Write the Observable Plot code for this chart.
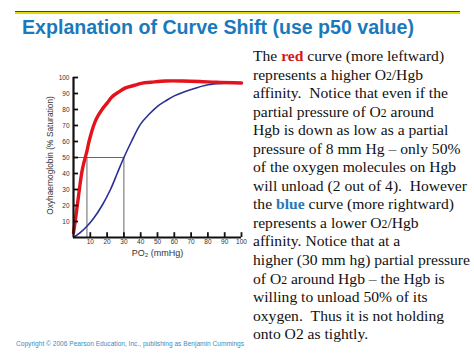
<!DOCTYPE html>
<html>
<head>
<meta charset="utf-8">
<script src="https://cdn.jsdelivr.net/npm/d3@7"></script>
<script src="https://cdn.jsdelivr.net/npm/@observablehq/plot@0.6"></script>
<style>
  html, body { margin: 0; padding: 0; background: #fff; }
  body { width: 474px; height: 355px; position: relative; overflow: hidden; }
  #topline { position: absolute; left: 15px; top: 11px; width: 445px; height: 1px; background: #4a4a20; border-bottom: 2px solid #e2dc00; }
  #title { position: absolute; left: 22px; top: 18.4px; font: bold 19.6px/1 "Liberation Sans", Arial, sans-serif; color: #1a79bc; white-space: nowrap; }
  #chart { position: absolute; left: 0; top: 60px; }
  #para { position: absolute; left: 253px; top: 47px; font: 15.6px/18.55px "Liberation Serif", "Times New Roman", serif; color: #111; white-space: nowrap; }
  #para div { height: 18.55px; }
  #para .r { color: #d01818; font-weight: bold; }
  #para .b { color: #2a78b8; font-weight: bold; }
  #para .s { font-size: 0.75em; line-height: 0; }
  #copy { position: absolute; left: 16px; top: 340.7px; font: 6.6px/1 "Liberation Sans", Arial, sans-serif; color: #3a8cc2; white-space: nowrap; }
</style>
</head>
<body>
<div id="topline"></div>
<div id="title"></div>
<div id="chart"></div>
<div id="para"></div>
<div id="copy"></div>
<script>
// ---- data ----
const titleText = "Explanation of Curve Shift (use p50 value)";
const yLabel = "Oxyhaemoglobin (% Saturation)";
const xLabel = "PO\u2082 (mmHg)";
const copyright = "Copyright \u00a9 2006 Pearson Education, Inc., publishing as Benjamin Cummings";
const xTicks = [10, 20, 30, 40, 50, 60, 70, 80, 90, 100];
const yTicks = [10, 20, 30, 40, 50, 60, 70, 80, 90, 100];

// red (higher affinity, leftward) curve
const redPO2 = [0, 1, 2, 3, 4, 5, 6, 7, 8, 9, 10, 12, 14, 17, 20, 23, 27, 31, 36, 41, 46, 55, 65, 75, 85, 100];
const redSat = [3, 10, 18, 26, 34, 41, 46, 50, 54, 59, 63, 70, 75, 80, 84, 88, 91, 93.5, 95, 96.5, 97, 97.8, 97.8, 97.5, 97, 96.6];
// blue (lower affinity, rightward) curve
const bluePO2 = [0, 4, 8, 12, 17, 22, 26, 30, 34.5, 40, 45, 50, 55, 60, 70, 80, 90, 100];
const blueSat = [0, 3, 7, 12, 20, 30, 40, 50, 60, 71, 77, 82, 85.5, 88.5, 92.5, 95.5, 96.4, 96.6];

// p50 guides
const p50PO2 = [8, 30];
const p50Level = [50];

// text paragraph lines
const paraLines = [
  'The <span class="r">red</span> curve (more leftward)',
  'represents a higher O<span class="s">2</span>/Hgb',
  'affinity.  Notice that even if the',
  'partial pressure of O<span class="s">2</span> around',
  'Hgb is down as low as a partial',
  'pressure of 8 mm Hg \u2013 only 50%',
  'of the oxygen molecules on Hgb',
  'will unload (2 out of 4).  However',
  'the <span class="b">blue</span> curve (more rightward)',
  'represents a lower O<span class="s">2</span>/Hgb',
  'affinity. Notice that at a',
  'higher (30 mm hg) partial pressure',
  'of O<span class="s">2</span> around Hgb \u2013 the Hgb is',
  'willing to unload 50% of its',
  'oxygen.  Thus it is not holding',
  'onto O2 as tightly.'
];

// ---- build ----
document.getElementById("title").textContent = titleText;
document.getElementById("copy").textContent = copyright;
document.getElementById("para").innerHTML = paraLines.map(l => `<div>${l.replace(/  /g, " &nbsp;")}</div>`).join("");

const red = redPO2.map((x, i) => ({x, y: redSat[i]}));
const blue = bluePO2.map((x, i) => ({x, y: blueSat[i]}));

const chart = Plot.plot({
  width: 250,
  height: 210,
  marginLeft: 73,
  marginRight: 9,
  marginTop: 17,
  marginBottom: 33,
  x: {domain: [0, 100]},
  y: {domain: [0, 100]},
  style: {fontFamily: "'Liberation Sans', Arial, sans-serif", fontSize: "6.5px", color: "#333", background: "transparent", overflow: "visible"},
  marks: [
    Plot.ruleY(p50Level, {x1: 0, x2: p50PO2[1], stroke: "#555", strokeWidth: 0.9}),
    Plot.ruleX(p50PO2, {y1: 0, y2: p50Level[0], stroke: "#555", strokeWidth: 0.9}),
    Plot.line(blue, {x: "x", y: "y", stroke: "#2b2f93", strokeWidth: 1.6, curve: "catmull-rom"}),
    Plot.line(red, {x: "x", y: "y", stroke: "#e3121b", strokeWidth: 3.4, curve: "catmull-rom"}),
    Plot.ruleX(xTicks, {y1: 0, y2: 3, stroke: "#111", strokeWidth: 1.8}),
    Plot.ruleY(yTicks, {x1: 0, x2: 3, stroke: "#111", strokeWidth: 1.8}),
    Plot.ruleY([0], {stroke: "#111", strokeWidth: 2.2}),
    Plot.ruleX([0], {stroke: "#111", strokeWidth: 2.2}),
    Plot.axisX({ticks: xTicks, tickSize: 0, tickPadding: 2, label: null, fontSize: 6.5}),
    Plot.axisY({ticks: yTicks, tickSize: 0, tickPadding: 4, label: null, fontSize: 6.5}),
    Plot.text([yLabel], {frameAnchor: "left", textAnchor: "middle", lineAnchor: "middle", dx: -23, dy: -2, rotate: -90, fontSize: 8.4, fill: "#333"}),
    Plot.text([xLabel], {frameAnchor: "bottom", textAnchor: "middle", lineAnchor: "middle", dy: 16, fontSize: 9, fill: "#333"})
  ]
});
document.getElementById("chart").appendChild(chart);
</script>
</body>
</html>
